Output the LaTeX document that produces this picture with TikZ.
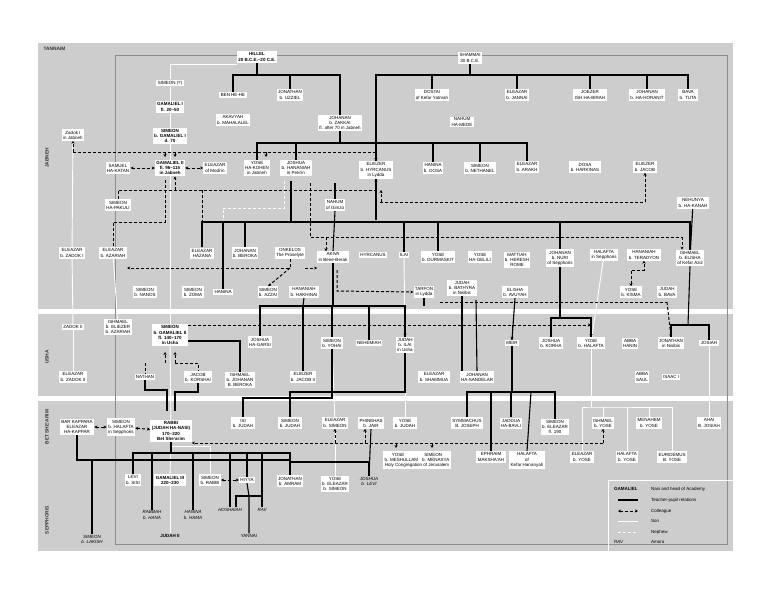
\documentclass[tikz,border=0pt]{standalone}
\usepackage{fontspec}
\setmainfont{Liberation Sans}
\usetikzlibrary{arrows.meta}
\pgfdeclarelayer{bgl}\pgfdeclarelayer{edl}
\pgfsetlayers{bgl,edl,main}
\definecolor{bggray}{RGB}{205,205,205}
\definecolor{framegray}{RGB}{140,140,140}
\newcommand{\fs}{\fontsize{4.5}{5.1}\selectfont}
\tikzset{
 nb/.style={fill=white,inner sep=1.4pt,align=center,font=\fs},
 nbb/.style={nb,font=\fs\bfseries},
 am/.style={inner sep=1pt,align=center,font=\fs\itshape},
 pl/.style={inner sep=1pt,align=center,font=\fs},
 tp/.style={line width=1.1pt,black},
 tpk/.style={line width=2.2pt,black},
 coll/.style={line width=1pt,dash pattern=on 3pt off 2pt,black},
 colla/.style={coll,-{Stealth[length=3pt,width=3pt]}},
 collb/.style={coll,{Stealth[length=3pt,width=3pt]}-{Stealth[length=3pt,width=3pt]}},
 son/.style={line width=0.9pt,white},
 neph/.style={line width=0.9pt,white,dash pattern=on 3pt off 2pt},
 era/.style={font=\fontsize{4.8}{5}\selectfont\bfseries,text=black!80}
}
\begin{document}
\begin{tikzpicture}[x=1pt,y=-1pt]
\useasboundingbox (0,0) rectangle (768,594);
\begin{pgfonlayer}{bgl}
\fill[white] (0,0) rectangle (768,594);
\fill[bggray] (38,43) rectangle (733,551);
\fill[white] (38,309) rectangle (733,314);
\fill[white] (38,396) rectangle (733,401);
\draw[framegray,line width=0.7pt] (115,55) rectangle (727,544);
\end{pgfonlayer}
\node[era,anchor=west] (tann) at (40,49) {TANNAIM};
\node[era,rotate=90] (jab) at (47,158) {JABNEH};
\node[era,rotate=90] (ush) at (47,357) {USHA};
\node[era,rotate=90] (bet) at (47,427) {BET SHE`ARIM};
\node[era,rotate=90] (sep) at (47,520) {SEPPHORIS};

% ---------- nodes
\node[nbb] (hillel) at (257,57) {HILLEL\\20 B.C.E.--20 C.E.};
\node[nb] (shammai) at (470,58) {SHAMMAI\\30 B.C.E.};
\node[nb] (simq) at (170,83) {SIMEON (?)};
\node[nbb] (gam1) at (170,107) {GAMALIEL I\\fl. 20--50};
\node[nbb] (simg1) at (170,136) {SIMEON\\b. GAMALIEL I\\d. 70};
\node[nb] (benhehe) at (233,95) {BEN HE-HE};
\node[nb] (akavyah) at (233,120) {AKAVYAH\\b. MAHALALEL};
\node[nb] (jonu) at (290,95) {JONATHAN\\b. UZZIEL};
\node[nb] (johz) at (340,123) {JOHANAN\\b. ZAKKAI\\fl. after 70 in Jabneh};
\node[nb] (dostai) at (432,95) {DOSTAI\\of Kefar Yatmah};
\node[nb] (nahumm) at (462,122) {NAHUM\\HA-MEDE};
\node[nb] (eleazj) at (517,95) {ELEAZAR\\b. JANNAI};
\node[nb] (joezer) at (590,95) {JOEZER\\ISH HA-BIRAH};
\node[nb] (johhor) at (647,95) {JOHANAN\\b. HA-HORANIT};
\node[nb] (bava) at (688,95) {BAVA\\b. TUTA};
\node[nb] (zadok1) at (73,135) {Zadok I\\in Jabneh};
\node[nb] (samuel) at (118,168) {SAMUEL\\HA-KATAN};
\node[nbb] (gam2) at (170,168) {GAMALIEL II\\fl. 96--115\\in Jabneh};
\node[nb] (eleazm) at (215,168) {ELEAZAR\\of Modi`in};
\node[nb] (yosek) at (257,168) {YOSE\\HA-KOHEN\\in Jabneh};
\node[nb] (joshua) at (296,168) {JOSHUA\\b. HANANIAH\\in Peki`in};
\node[nb] (eliezer) at (376,170) {ELIEZER\\b. HYRCANUS\\in Lydda};
\node[nb] (haninad) at (433,168) {HANINA\\b. DOSA};
\node[nb] (simn) at (480,168) {SIMEON\\b. NETHANEL};
\node[nb] (eleaza) at (527,167) {ELEAZAR\\b. ARAKH};
\node[nb] (dosa) at (585,167) {DOSA\\b. HARKINAS};
\node[nb] (eliezj) at (645,167) {ELIEZER\\b. JACOB};
\node[nb] (simp) at (118,205) {SIMEON\\HA-PAKULI};
\node[nb] (nahumg) at (335,205) {NAHUM\\of Gimzo};
\node[nb] (nehunya) at (693,203) {NEHUNYA\\b. HA-KANAH};
\node[nb] (eleazz1) at (72,253) {ELEAZAR\\b. ZADOK I};
\node[nb] (eleazaz) at (113,253) {ELEAZAR\\b. AZARIAH};
\node[nb] (eleazh) at (202,253) {ELEAZAR\\HAZANA};
\node[nb] (johb) at (245,253) {JOHANAN\\b. BEROKA};
\node[nb] (onkelos) at (290,253) {ONKELOS\\The Proselyte};
\node[nb] (akiva) at (333,257) {AKIVA\\in Bene-Berak};
\node[nb] (hyrc) at (373,255) {HYRCANUS};
\node[nb] (ilai) at (404,255) {ILAI};
\node[nb] (yosed) at (438,257) {YOSE\\b. DURMASKIT};
\node[nb] (yoseg) at (480,257) {YOSE\\HA-GELILI};
\node[nb] (mattiah) at (517,260) {MATTIAH\\b. HERESH\\ROME};
\node[nb] (john) at (560,258) {JOHANAN\\b. NURI\\of Sepphoris};
\node[nb] (halafta) at (604,255) {HALAFTA\\in Sepphoris};
\node[nb] (hanant) at (644,255) {HANANIAH\\b. TERADYON};
\node[nb] (ishe) at (690,258) {ISHMAEL\\b. ELISHA\\of Kefar Aziz};
\node[nb] (simnan) at (145,292) {SIMEON\\b. NANOS};
\node[nb] (simz) at (193,292) {SIMEON\\b. ZOMA};
\node[nb] (hanina) at (223,292) {HANINA};
\node[nb] (sima) at (268,292) {SIMEON\\b. AZZAI};
\node[nb] (hanh) at (304,292) {HANANIAH\\b. HAKHINAI};
\node[nb] (tarfon) at (424,292) {TARFON\\in Lydda};
\node[nb] (judahb) at (462,288) {JUDAH\\b. BATHYRA\\in Nisibis};
\node[nb] (elisha) at (515,292) {ELISHA\\b. AVUYAH};
\node[nb] (yosek2) at (631,292) {YOSE\\b. KISMA};
\node[nb] (judahbv) at (667,292) {JUDAH\\b. BAVA};
% Usha
\node[nb] (zadok2) at (73,327) {ZADOK II};
\node[nb] (ishez) at (118,327) {ISHMAEL\\b. ELIEZER\\b. AZARIAH};
\node[nbb] (simg2) at (170,335) {SIMEON\\b. GAMALIEL II\\fl. 140--170\\in Usha};
\node[nb] (joshg) at (260,342) {JOSHUA\\HA-GARSI};
\node[nb] (simy) at (332,343) {SIMEON\\b. YOHAI};
\node[nb] (nehem) at (369,343) {NEHEMIAH};
\node[nb] (judahi) at (405,345) {JUDAH\\b. ILAI\\in Usha};
\node[nb] (meir) at (512,343) {MEIR};
\node[nb] (joshk) at (551,343) {JOSHUA\\b. KORHA};
\node[nb] (yoseh) at (591,343) {YOSE\\b. HALAFTA};
\node[nb] (abbah) at (630,343) {ABBA\\HANIN};
\node[nb] (jonn) at (671,343) {JONATHAN\\in Nisibis};
\node[nb] (josiah) at (709,343) {JOSIAH};
\node[nb] (eleazz2) at (73,377) {ELEAZAR\\b. ZADOK II};
\node[nb] (nathan) at (145,377) {NATHAN};
\node[nb] (jacobk) at (198,377) {JACOB\\b. KORSHAI};
\node[nb] (ishj) at (240,380) {ISHMAEL\\b. JOHANAN\\B. BEROKA};
\node[nb] (eliezj2) at (303,377) {ELIEZER\\b. JACOB II};
\node[nb] (eleazs) at (434,377) {ELEAZAR\\b. SHAMMUA};
\node[nb] (johs) at (477,377) {JOHANAN\\HA-SANDELAR};
\node[nb] (abbas) at (642,377) {ABBA\\SAUL};
\node[nb] (isaac) at (671,377) {ISAAC I};
% Bet She'arim
\node[nb] (barkap) at (77,427) {BAR KAPPARA\\ELEAZAR\\HA-KAPPAR};
\node[nb] (simh) at (121,427) {SIMEON\\b. HALAFTA\\in Sepphoris};
\node[nbb] (rabbi) at (171,431) {RABBI\\(JUDAH HA-NASI)\\170--220\\Bet She`arim};
\node[nb] (isi) at (243,423) {ISI\\b. JUDAH};
\node[nb] (simjud) at (290,423) {SIMEON\\b. JUDAH};
\node[nb] (eleazsim) at (335,423) {ELEAZAR\\b. SIMEON};
\node[nb] (phin) at (371,423) {PHINEHAS\\b. JAIR};
\node[nb] (yosej) at (405,423) {YOSE\\b. JUDAH};
\node[nb] (symm) at (467,423) {SYMMACHUS\\B. JOSEPH};
\node[nb] (jaddua) at (511,423) {JADDUA\\HA-BAVLI};
\node[nb] (simel) at (555,427) {SIMEON\\b. ELEAZAR\\fl. 190};
\node[nb] (ishy) at (603,423) {ISHMAEL\\b. YOSE};
\node[nb] (menah) at (649,423) {MENAHEM\\b. YOSE};
\node[nb] (ahai) at (709,423) {AHAI\\B. JOSIAH};
\node[nb] (holy) at (417,460) {YOSE\hspace{20pt}SIMEON\\b. MESHULLAM\hspace{4pt}b. MENASYA\\Holy Congregation of Jerusalem};
\node[nb] (ephraim) at (491,457) {EPHRAIM\\MAKSHA`AH};
\node[nb] (halk) at (527,460) {HALAFTA\\of\\Kefar Hananyah};
\node[nb] (eleazy) at (582,457) {ELEAZAR\\b. YOSE};
\node[nb] (haly) at (627,457) {HALAFTA\\b. YOSE};
\node[nb] (euri) at (672,457) {EURIDEMUS\\B. YOSE};
% Sepphoris
\node[nb] (levi) at (133,480) {LEVI\\b. SISI};
\node[nbb] (gam3) at (170,480) {GAMALIEL III\\220--230};
\node[nb] (simr) at (210,480) {SIMEON\\b. RABBI};
\node[nb] (hiyya) at (247,480) {HIYYA};
\node[nb] (jonam) at (290,481) {JONATHAN\\b. AMRAM};
\node[nb] (yosees) at (335,484) {YOSE\\b. ELEAZAR\\b. SIMEON};
\node[am] (joshl) at (369,481) {JOSHUA\\b. LEVI};
\node[am] (rabbah) at (152,515) {RABBAH\\b. HANA};
\node[am] (haninah) at (193,515) {HANINA\\b. HAMA};
\node[am] (hosh) at (230,510) {HOSHAIAH};
\node[am] (rav) at (262,510) {RAV};
\node[am] (siml) at (92,539) {SIMEON\\b. LAKISH};
\node[pl,font=\fs\bfseries] (judah2) at (170,536) {JUDAH II};
\node[pl] (yannai) at (249,536) {YANNAI};

% ---------- connectors
\begin{pgfonlayer}{edl}
% sons (white)
\draw[son] (hillel.west) ++(0,7) -| (simq.north);
\draw[son] (simq) -- (gam1); \draw[son] (gam1) -- (simg1); \draw[son] (simg1) -- (gam2);
\draw[son] (gam2) -- (simg2); \draw[son] (simg2) -- (rabbi); \draw[son] (rabbi) -- (gam3); \draw[son] (gam3) -- (judah2);
\draw[son] (rabbi.south) ++(0,5) -| (simr.north);
\draw[son] (zadok1) -- (eleazz1); \draw[son] (eleazz1) -- (zadok2); \draw[son] (zadok2) -- (eleazz2);
\draw[son] (eleazaz) -- (ishez);
\draw[son] (ilai) -- (judahi); \draw[son] (judahi) -- (yosej);
\draw[son] (halafta) -- (yoseh);
\draw[son] (simy) -- (eleazsim); \draw[son] (eleazsim) -- (yosees);
\draw[son] (josiah) -- (ahai);
\draw[son] (yoseh.south) -- (591,407);
\draw[son] (eleazy.north) |- (591,407) -| (euri.north);
\draw[son] (ishy.north) -- (ishy.north|-0,407);
\draw[son] (menah.north) -- (menah.north|-0,407);
\draw[son] (haly.north) -- (haly.north|-0,407);
\draw[neph] (284,181) -- (284,208) -- (223,208) -- (hanina.north);
% teacher-pupil
\draw[tpk] (hillel.south) -- (257,75);
\draw[tp] (benhehe.north) |- (257,75) -| (johz.north);
\draw[tp] (jonu.north) -- (290,75);
\draw[tpk] (shammai.south) -- (470,75);
\draw[tp] (376,220) -- (376,75) -| (bava.north);
\draw[tp] (dostai.north) -- (432,75);
\draw[tp] (eleazj.north) -- (517,75);
\draw[tp] (joezer.north) -- (590,75);
\draw[tp] (johhor.north) -- (647,75);
\draw[tpk] (johz.south) -- (340,143);
\draw[tp] (yosek.north) |- (340,143) -| (eleaza.north);
\draw[tp] (joshua.north) -- (296,143);
\draw[tp] (haninad.north) -- (433,143);
\draw[tp] (simn.north) -- (480,143);
\draw[tp] (nahumg.north) -- (335,183);
\draw[tp] (291,181) -- (291,222);
\draw[tp] (eleazh.north) |- (376,222) -| (ishe.north);
\draw[tp] (hanina.north) -- (223,222);
\draw[tp] (johb.north) -- (245,222);
\draw[tp] (ilai.north) -- (404,222);
\draw[tp] (yosed.north) -- (438,222);
\draw[tp] (john.north) -- (560,222);
\draw[tp] (nehunya) -- (ishe);
\draw[tpk] (akiva.south) -- (333,306);
\draw[tp] (nahumg.south) -- (akiva.north);
\draw[tp] (joshg.north) |- (333,306) -| (judahi.north);
\draw[tp] (hanh.south) -- (303,306);
\draw[tp] (eliezj2.north) -- (303,306);
\draw[tp] (simy.north) -- (332,306);
\draw[tp] (nehem.north) -- (369,306);
\draw[tp] (tarfon.south) -- (424,306);
\draw[tp] (judahb.south) -- (judahb.south|-eleazs.north);
\draw[tp] (476,300) -- (johs.north);
\draw[tp] (elisha.south) -- (meir.north);
\draw[tp] (john.south) -- (560,318) -| (joshk.north);
\draw[tp] (560,318) -| (yoseh.north);
\draw[tp] (ishe.south) -- (688,325);
\draw[tp] (jonn.north) |- (688,325) -| (josiah.north);
\draw[tp] (judahi.south) -- (405,392) -| (simjud.north);
\draw[tp] (meir.south) -- (512,392);
\draw[tp] (symm.north) |- (555,392) -- (simel.north);
\draw[tp] (jaddua.north) -- (511,392);
\draw[tp] (ephraim.north) -- (491,392);
\draw[tp] (halk.north) -- (531,392);
\draw[tp] (simy.south) -- (332,398) -| (isi.north);
\draw[tp] (phin.south) -- (joshl.north);
\draw[tp] (simg2.east) ++(0,6) -| (ishj.north);
\draw[tp] (nathan.south) -- (145,390) -| (167,411);
\draw[tp] (jacobk.south) -- (198,392) -| (175,411);
\draw[tpk] (rabbi.south) -- (171,453);
\draw[tp] (levi.north) |- (171,453) -| (jonam.north);
\draw[tp] (rabbah.north) -- (152,453);
\draw[tp] (haninah.north) -- (193,453);
\draw[tp] (hosh.north) -- (230,453);
\draw[tp] (hiyya.north) -- (247,453);
\draw[tp] (rav.north) -- (262,453);
\draw[tp] (barkap.south) |- (290,460);
\draw[tp] (siml.north) -- (92,460);
\draw[tp] (hosh.north) ++(6,0) |- (262,496);
\draw[tp] (hiyya.south) -- (249,496) -- (yannai.north);
\draw[tp] (joshl.north) |- (290,462);
% colleagues
\draw[collb] (samuel) -- (gam2);
\draw[collb] (gam2) -- (eleazm);
\draw[coll] (73,152) -- (376,152);
\draw[colla] (73,152) -- (zadok1.south);
\draw[colla] (165,152) -- (165,157);
\draw[colla] (175,152) -- (175,157);
\draw[colla] (266,152) -- (266,157);
\draw[colla] (376,152) -- (eliezer.north);
\draw[coll] (simp.north) |- (376,190);
\draw[colla] (175,190) -- (gam2.south-|175,0);
\draw[colla] (376,190) -- (eliezer.south);
\draw[coll] (165,180) -- (165,222) -| (eleazaz.north);
\draw[coll] (202,190) -- (eleazh.north);
\draw[coll] (380,202) -- (645,202);
\draw[colla] (645,202) -- (eliezj.south);
\draw[colla] (381,202) -- (381,190);
\draw[coll] (310,183) -- (310,237) -- (682,237);
\draw[colla] (326,237) -- (akiva.north-|326,0);
\draw[colla] (682,237) -- (ishe.north-|682,0);
\draw[colla] (onkelos.south) |- (eleazaz.east|-0,268);
\draw[colla] (290,268) -- (sima.north);
\draw[colla] (onkelos.east|-0,268) -- (akiva.west|-0,268);
\draw[colla] (337,270) -- (337,291) -- (tarfon.west);
\draw[collb] (yosek2.north) |- (644,270) -- (hanant.south);
\draw[coll] (440,302) -- (667,302);
\draw[colla] (667,302) -- (jonn.north);
\draw[colla] (simg2.east|-0,325) -- (591,325);
\draw[colla] (591,325) -- (yoseh.north);
\draw[colla] (405,325) -- (judahi.north);
\draw[colla] (512,325) -- (meir.north);
\draw[colla] (165,363) -- (165,352);
\draw[coll] (145,363) -| (nathan.north);
\draw[colla] (175,363) -- (175,352);
\draw[coll] (175,363) -| (jacobk.north);
\draw[collb] (barkap) -- (simh);
\draw[collb] (simh) -- (rabbi);
\draw[colla] (603,443) -- (rabbi.east|-0,443);
\draw[colla] (603,443) -- (ishy.south);
\draw[colla] (335,443) -- (eleazsim.south);
\draw[colla] (365,443) -- (phin.south-|365,0);
\draw[colla] (396,443) -- (396,448);
\draw[colla] (432,443) -- (432,448);
\draw[collb] (simr) -- (hiyya);
\end{pgfonlayer}

% legend
\draw[white,line width=0.8pt] (608,552) |- (733,480);
\node[pl,anchor=west,font=\fs\bfseries] (lg1) at (613,489) {GAMALIEL};
\node[pl,anchor=west] (lt1) at (650,489) {Nasi and head of Academy};
\coordinate (la) at (618,500); \coordinate (lb) at (638,500);
\draw[tp] (la) -- (lb);
\node[pl,anchor=west] (lt2) at (650,500) {Teacher-pupil relations};
\coordinate (lc) at (618,511); \coordinate (ld) at (638,511);
\draw[collb] (lc) -- (ld);
\node[pl,anchor=west] (lt3) at (650,511) {Colleague};
\coordinate (le) at (618,521); \coordinate (lf) at (638,521);
\draw[son] (le) -- (lf);
\node[pl,anchor=west] (lt4) at (650,521) {Son};
\coordinate (lg) at (618,532); \coordinate (lh) at (638,532);
\draw[neph] (lg) -- (lh);
\node[pl,anchor=west] (lt5) at (650,532) {Nephew};
\node[am,anchor=west] (lg6) at (613,542) {RAV};
\node[pl,anchor=west] (lt6) at (650,542) {Amora};
\end{tikzpicture}
\end{document}
